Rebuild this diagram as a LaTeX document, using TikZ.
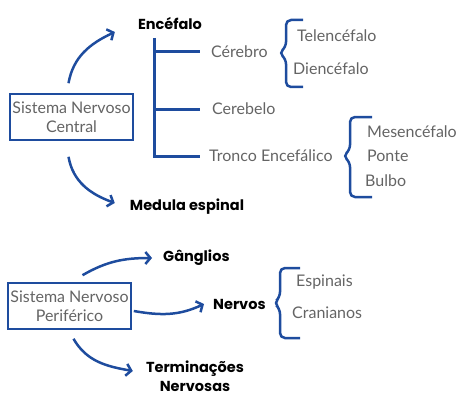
\documentclass[tikz,border=0pt]{standalone}
\usepackage{fontspec}
\setmainfont{Lato}
\newfontfamily\negrito{Poppins}
\usetikzlibrary{arrows.meta}

\definecolor{azul}{RGB}{30,76,158}
\definecolor{cinza}{RGB}{100,100,100}

\begin{document}
\begin{tikzpicture}[x=1pt, y=1pt,
    caixa/.style={draw=azul, line width=1.6pt, minimum width=123pt, minimum height=46pt,
      align=center, inner sep=1pt, text=cinza, font=\fontsize{16}{19}\selectfont},
    item/.style={anchor=west, inner sep=1pt, text=cinza, font=\fontsize{16}{19}\selectfont},
    titulo/.style={inner sep=1pt, font=\negrito\bfseries\fontsize{14.5}{19}\selectfont},
    seta/.style={draw=azul, line width=2.5pt, -{Straight Barb[length=5pt,width=12pt]}},
    barra/.style={draw=azul, line width=3pt},
    chave/.style={draw=azul, line width=2.5pt, rounded corners=5pt}]
  \useasboundingbox (0,0) rectangle (474,-412);

  % sistema nervoso central
  \node [caixa] (snc) at (71.5,-117) {Sistema Nervoso\\Central};
  \node [titulo] (enc) at (170,-24) {Encéfalo};
  \node [titulo] (med) at (187,-207) {Medula espinal};

  \draw [seta] ([xshift=-3pt,yshift=10pt]snc.north) to[out=80, in=205] ([xshift=-22pt,yshift=-8pt]enc.west);
  \draw [seta] ([xshift=-3pt,yshift=-16pt]snc.south) to[out=-80, in=160] ([xshift=-14pt,yshift=4pt]med.west);

  % partes do encefalo
  \node [item] (cer) at (210,-52) {Cérebro};
  \node [item] (ceb) at (211,-109) {Cerebelo};
  \node [item] (tro) at (208,-156) {Tronco Encefálico};

  \coordinate (topo) at (154,-38);
  \coordinate (b1) at (154,-52);
  \coordinate (b2) at (154,-109);
  \coordinate (base) at (154,-156);

  \draw [barra] (topo) -- (base) -- ([xshift=-8pt]tro.west);
  \draw [barra] (b1) -- ([xshift=-10pt]cer.west);
  \draw [barra] (b2) -- ([xshift=-11pt]ceb.west);

  \node [item] (tel) at (296,-36) {Telencéfalo};
  \node [item] (die) at (292,-69) {Diencéfalo};
  \draw [chave] (303,-20) -- (286,-20) -- (286,-47) -- (279,-53) -- (286,-59) -- (286,-87) -- (303,-87);

  \node [item] (mes) at (366,-132) {Mesencéfalo};
  \node [item] (pon) at (366,-156) {Ponte};
  \node [item] (bul) at (364,-181) {Bulbo};
  \draw [chave] (372,-117) -- (350,-117) -- (350,-150) -- (343,-156) -- (350,-162) -- (350,-197) -- (372,-197);

  % sistema nervoso periferico
  \node [caixa] (snp) at (69.5,-306) {Sistema Nervoso\\Periférico};
  \node [titulo, anchor=west] (gan) at (162,-258) {Gânglios};
  \node [titulo, anchor=west] (ner) at (212,-304) {Nervos};
  \node [titulo, align=center] (ter) at (195,-376) {Terminações\\Nervosas};

  \draw [seta] ([xshift=13pt,yshift=7pt]snp.north) to[out=30, in=180] ([xshift=-10pt]gan.west);
  \draw [seta] ([xshift=2pt,yshift=-5pt]snp.east) to[out=-10, in=205] ([xshift=-8pt]ner.west);
  \draw [seta] ([xshift=4pt,yshift=-9pt]snp.south) to[out=-60, in=170] ([xshift=-12pt,yshift=5pt]ter.west);

  \node [item] (esp) at (295,-282) {Espinais};
  \node [item] (cra) at (291,-313) {Cranianos};
  \draw [chave] (300,-268) -- (280,-268) -- (280,-297) -- (274,-303) -- (280,-309) -- (280,-338) -- (300,-338);
\end{tikzpicture}
\end{document}
